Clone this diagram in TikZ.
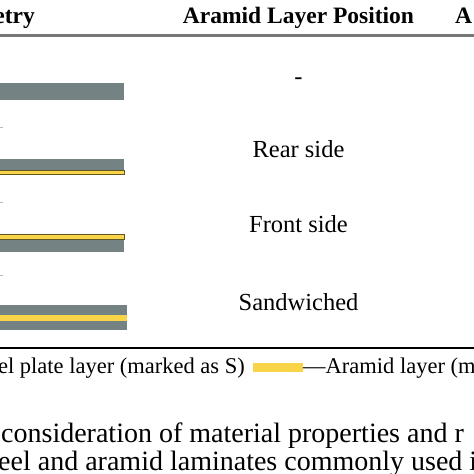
\documentclass[tikz,border=0pt]{standalone}
\usepackage{fontspec}
\setmainfont{Liberation Serif}
\definecolor{steel}{RGB}{117,130,132}
\definecolor{aramid}{RGB}{250,212,72}
\definecolor{aramidedge}{RGB}{95,88,35}
\definecolor{rulegray}{RGB}{120,120,120}
\begin{document}
\begin{tikzpicture}[x=1pt,y=-1pt,
  steelbar/.style={fill=steel, draw=none},
  aramidbar/.style={fill=aramid, draw=aramidedge, line width=0.8pt},
  aramidfill/.style={fill=aramid, draw=none},
  headtxt/.style={font=\fontsize{23.5}{27}\selectfont\bfseries, inner sep=0pt},
  celltxt/.style={font=\fontsize{24.5}{28}\selectfont, inner sep=0pt},
  legtxt/.style={font=\fontsize{22.5}{25}\selectfont, inner sep=0pt},
  bodytxt/.style={font=\fontsize{28}{32}\selectfont, inner sep=0pt},
  tick/.style={draw=gray!55, line width=0.8pt}]
\useasboundingbox (0,0) rectangle (474,474);
\fill[white] (0,0) rectangle (474,474);
% header
\node[headtxt, anchor=base east] (hgeo) at (35,23) {etry};
\node[headtxt, anchor=base] (hpos) at (298.5,23) {Aramid Layer Position};
\node[headtxt, anchor=base west] (hnext) at (455,23) {A};
\draw[rulegray, line width=2.5pt] (0,35.5) -- (474,35.5);
% bars
\path[steelbar] (0,83) rectangle (124,100);
\path[steelbar] (0,159) rectangle (124,170);
\path[aramidbar] (-2,170.3) rectangle (124.5,174.7);
\path[aramidbar] (-2,234.3) rectangle (124,239.7);
\path[steelbar] (0,240) rectangle (124,252);
\path[steelbar] (0,305) rectangle (127,330);
\path[aramidfill] (0,315) rectangle (127,320.5);
% small marks at left edge
\path[tick] (0,127) -- (2.5,127);
\path[tick] (0,202) -- (2.5,202);
\path[tick] (0,275) -- (2.5,275);
% position column
\node[celltxt, anchor=base] (p1) at (298.5,84) {-};
\node[celltxt, anchor=base] (p2) at (298.5,157) {Rear side};
\node[celltxt, anchor=base] (p3) at (298.5,232) {Front side};
\node[celltxt, anchor=base] (p4) at (298.5,310) {Sandwiched};
% bottom rule
\draw[black, line width=2.5pt] (0,348) -- (474,348);
% legend
\node[legtxt, anchor=base east] (leg1) at (245,373.5) {el plate layer (marked as S)};
\path[aramidfill] (252.5,362.7) rectangle (303,371.7);
\node[legtxt, anchor=base west] (leg2) at (303,373.5) {—Aramid layer (m};
% body text
\node[bodytxt, anchor=base west] (b1) at (1,442) {consideration of material properties and r};
\node[bodytxt, anchor=base west] (b2) at (-2,470) {eel and aramid laminates commonly used i};
\end{tikzpicture}
\end{document}
